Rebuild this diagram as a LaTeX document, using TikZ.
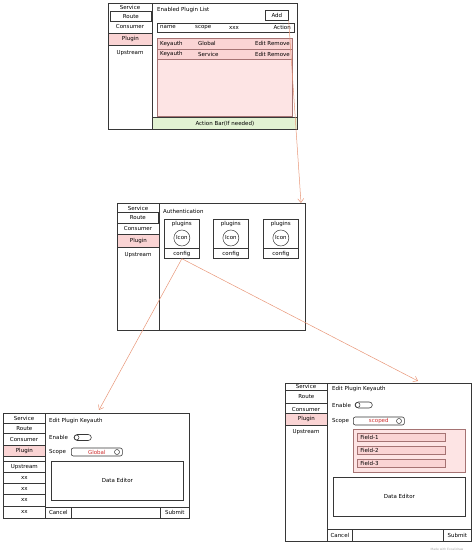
\documentclass[tikz,border=0pt]{standalone}
\usepackage{fontspec}
\setmainfont{DejaVu Sans}
\usepackage{xcolor}
\usetikzlibrary{
  arrows.meta,
  positioning,
  shapes.geometric
}
\definecolor{InkGray}{RGB}{55, 55, 55}
\definecolor{RoseFill}{RGB}{250, 212, 212}
\definecolor{RoseLight}{RGB}{253, 228, 228}
\definecolor{RoseLine}{RGB}{165, 115, 115}
\definecolor{LeafFill}{RGB}{226, 242, 210}
\definecolor{LinkOrange}{RGB}{232, 150, 120}
\definecolor{ScopeRed}{RGB}{205, 45, 45}
\tikzset{
    every node/.append style={font=\fontsize{5.5}{6.5}\selectfont, inner sep=0pt},
    frame/.style={draw=InkGray, line width=0.7pt, anchor=north west},
    navbox/.style={frame},
    navpick/.style={frame, fill=RoseFill},
    pinkarea/.style={frame, draw=RoseLine, fill=RoseLight},
    pinkrow/.style={frame, draw=RoseLine, fill=RoseFill},
    greenbar/.style={frame, fill=LeafFill},
    lbl/.style={anchor=west},
    toggle/.style={draw=InkGray, line width=0.6pt, rounded corners=3pt, anchor=west, minimum width=17pt, minimum height=6pt},
    dropbox/.style={draw=InkGray, line width=0.6pt, rounded corners=2pt, anchor=west, minimum width=51pt, minimum height=8pt, text=ScopeRed},
    knob/.style={draw=InkGray, line width=0.5pt, circle, minimum size=5pt},
    link/.style={draw=LinkOrange, line width=0.5pt, -{Straight Barb[length=4pt, width=6pt]}}
}

\begin{document}
\begin{tikzpicture}[x=1pt, y=-1pt]
    \useasboundingbox (0,0) rectangle (474,553);

    % plugin list page
    \node[frame, minimum width=189pt, minimum height=126pt] (aFrame) at (108,3) {};
    \node[frame, minimum width=44pt, minimum height=126pt] (aSide) at (108,3) {};
    \node (aService) at (130,7) {Service};
    \node[navbox, minimum width=41pt, minimum height=10pt] (aRoute) at (110,11) {Route};
    \node (aConsumer) at (130,27) {Consumer};
    \node[navpick, minimum width=44pt, minimum height=12pt] (aPlugin) at (108,33) {Plugin};
    \node (aUpstream) at (130,53) {Upstream};
    \node[lbl] (aTitle) at (157,10) {Enabled Plugin List};
    \node[frame, minimum width=23pt, minimum height=10pt] (aAdd) at (265,10) {Add};
    \node[frame, minimum width=137pt, minimum height=9pt] (aHead) at (157,23) {};
    \node[lbl] (aColName) at (160,27.5) {name};
    \node[lbl] (aColScope) at (195,27.5) {scope};
    \node[lbl] (aColX) at (229,27.5) {xxx};
    \node[anchor=east] (aColAct) at (291,27.5) {Action};
    \node[pinkarea, minimum width=135pt, minimum height=78pt] (aList) at (157,38) {};
    \node[pinkrow, minimum width=135pt, minimum height=11pt] (aRow1) at (157,38) {};
    \node[pinkrow, minimum width=135pt, minimum height=10pt] (aRow2) at (157,49) {};
    \node[lbl] (aRow1Name) at (160,43.5) {Keyauth};
    \node[lbl] (aRow1Scope) at (198,43.5) {Global};
    \node[anchor=east] (aRow1Act) at (290,43.5) {Edit Remove};
    \node[lbl] (aRow2Name) at (160,54) {Keyauth};
    \node[lbl] (aRow2Scope) at (198,54) {Service};
    \node[anchor=east] (aRow2Act) at (290,54) {Edit Remove};
    \node[greenbar, minimum width=145pt, minimum height=12pt] (aBar) at (152,117) {Action Bar(If needed)};

    % plugin picker page
    \node[frame, minimum width=188pt, minimum height=127pt] (bFrame) at (117,203) {};
    \node[frame, minimum width=42pt, minimum height=127pt] (bSide) at (117,203) {};
    \node (bService) at (138,208) {Service};
    \node[navbox, minimum width=41pt, minimum height=11pt] (bRoute) at (117,212) {Route};
    \node (bConsumer) at (138,228) {Consumer};
    \node[navpick, minimum width=42pt, minimum height=13pt] (bPlugin) at (117,234) {Plugin};
    \node (bUpstream) at (138,255) {Upstream};
    \node[lbl] (bTitle) at (163,211) {Authentication};
    \foreach \cx/\cn in {164/bCardA, 213/bCardB, 263/bCardC} {
        \node[frame, minimum width=35pt, minimum height=39pt] (\cn) at (\cx,219) {};
        \node (\cn-name) at ([yshift=-5pt]\cn.north) {plugins};
        \node[draw=InkGray, circle, minimum size=16pt, line width=0.5pt] (\cn-icon) at ([yshift=-19pt]\cn.north) {Icon};
        \draw[draw=InkGray, line width=0.6pt] ([yshift=10pt]\cn.south west) -- ([yshift=10pt]\cn.south east);
        \node (\cn-cfg) at ([yshift=5pt]\cn.south) {config};
    }

    % edit page, global scope
    \node[frame, minimum width=186pt, minimum height=105pt] (cFrame) at (3,413) {};
    \node[frame, minimum width=42pt, minimum height=105pt] (cSide) at (3,413) {};
    \node (cService) at (24,418.5) {Service};
    \node[navbox, minimum width=42pt, minimum height=10pt] (cRoute) at (3,423) {Route};
    \node (cConsumer) at (24,439) {Consumer};
    \node[navpick, minimum width=42pt, minimum height=11pt] (cPlugin) at (3,445) {Plugin};
    \node[navbox, minimum width=42pt, minimum height=11pt] (cUpstream) at (3,461) {Upstream};
    \foreach \ry/\rh/\rn in {472/11/cXxA, 483/11/cXxB, 494/12/cXxC, 506/12/cXxD}
        \node[navbox, minimum width=42pt, minimum height=\rh pt] (\rn) at (3,\ry) {xx};
    \node[lbl] (cTitle) at (49,421) {Edit Plugin Keyauth};
    \node[lbl] (cEnable) at (49,437.5) {Enable};
    \node[toggle] (cToggle) at (74,437.5) {};
    \node[knob] (cToggleKnob) at (76.5,437.5) {};
    \node[lbl] (cScope) at (49,452) {Scope};
    \node[dropbox] (cDrop) at (71,452) {Global};
    \node[knob] (cDropKnob) at (117,452) {};
    \node[frame, minimum width=132pt, minimum height=39pt] (cEditor) at (51,461) {Data Editor};
    \node[frame, minimum width=144pt, minimum height=11pt] (cFoot) at (45,507) {};
    \node[frame, minimum width=26pt, minimum height=11pt] (cCancel) at (45,507) {Cancel};
    \node[frame, minimum width=29pt, minimum height=11pt] (cSubmit) at (160,507) {Submit};

    % edit page, scoped
    \node[frame, minimum width=186pt, minimum height=158pt] (dFrame) at (285,383) {};
    \node[frame, minimum width=42pt, minimum height=158pt] (dSide) at (285,383) {};
    \node (dService) at (306,386.5) {Service};
    \node[navbox, minimum width=42pt, minimum height=13pt] (dRoute) at (285,390) {Route};
    \node (dConsumer) at (306,409) {Consumer};
    \node[navpick, minimum width=42pt, minimum height=12pt] (dPlugin) at (285,413) {Plugin};
    \node (dUpstream) at (306,432) {Upstream};
    \node[lbl] (dTitle) at (332,389) {Edit Plugin Keyauth};
    \node[lbl] (dEnable) at (332,405) {Enable};
    \node[toggle] (dToggle) at (355,405) {};
    \node[knob] (dToggleKnob) at (357.5,405) {};
    \node[lbl] (dScope) at (332,421) {Scope};
    \node[dropbox] (dDrop) at (353,421) {scoped};
    \node[knob] (dDropKnob) at (399,421) {};
    \node[pinkarea, minimum width=112pt, minimum height=43pt] (dFields) at (353,429) {};
    \node[pinkrow, minimum width=88pt, minimum height=8pt, text width=82pt, align=left] (dField1) at (357,433) {Field-1};
    \node[pinkrow, minimum width=88pt, minimum height=8pt, text width=82pt, align=left] (dField2) at (357,446) {Field-2};
    \node[pinkrow, minimum width=88pt, minimum height=8pt, text width=82pt, align=left] (dField3) at (357,459) {Field-3};
    \node[frame, minimum width=132pt, minimum height=39pt] (dEditor) at (333,477) {Data Editor};
    \node[frame, minimum width=144pt, minimum height=12pt] (dFoot) at (327,529) {};
    \node[frame, minimum width=25pt, minimum height=12pt] (dCancel) at (327,529) {Cancel};
    \node[frame, minimum width=28pt, minimum height=12pt] (dSubmit) at (443,529) {Submit};

    % flow
    \coordinate (bIn) at (301,203);
    \coordinate (cIn) at (99,410);
    \coordinate (dIn) at (418,381);
    \draw[link] (aAdd.south east) -- (bIn);
    \draw[link] (bCardA.south) -- (cIn);
    \draw[link] (bCardA.south) -- (dIn);

    \node[text=black!35, font=\fontsize{3}{3.5}\selectfont] (madeWith) at (447,549) {Made with Excalidraw};
\end{tikzpicture}
\end{document}
